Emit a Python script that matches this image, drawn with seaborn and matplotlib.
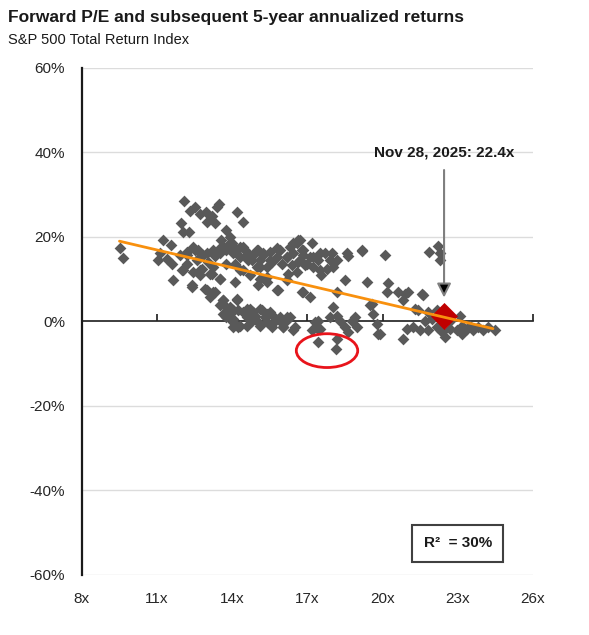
import matplotlib
matplotlib.use("Agg")
import matplotlib.pyplot as plt
from matplotlib.patches import Ellipse
import seaborn as sns
import pandas as pd

# ---------------- data ----------------
pe = [
    9.54, 9.65,
    12.07, 12.51, 12.31, 12.71, 12.95, 13.18, 13.38, 13.48, 12.98, 13.31, 13.77, 11.94, 12.28, 14.17,
    11.24, 11.54, 11.11, 11.38, 11.04, 11.58, 11.91, 12.18, 12.44, 12.64, 12.84, 12.58, 12.18, 11.98,
    12.44, 12.78, 13.04, 13.18, 12.71, 13.51, 13.31, 13.57, 13.77, 13.97, 14.04, 13.57, 13.91,
    11.64, 12.38, 12.98, 13.11, 13.31, 13.64, 13.77, 13.51, 13.97, 13.77, 14.04, 14.04,
    14.44,
    13.97, 14.04, 14.30, 14.30, 14.57, 14.64, 14.84, 15.04, 15.10, 15.23, 14.97, 15.37, 15.57, 15.50,
    15.77, 15.77, 15.97, 16.17, 16.30, 16.43, 16.57, 16.70, 16.77, 16.83, 16.63, 16.37, 16.23, 16.57,
    16.90, 17.10, 17.23, 17.43, 17.50, 17.70, 17.90, 18.03, 17.76, 17.56, 18.16, 18.56, 19.16, 18.49,
    19.36, 16.77, 17.10, 15.83, 15.10, 15.37, 14.70, 14.44, 14.11, 14.11, 18.16, 19.49, 19.76, 19.82,
    14.17, 14.04, 14.44, 14.70, 14.90, 15.17, 15.30, 15.50, 15.70, 15.90, 16.10, 16.30, 16.50, 16.03,
    15.57, 15.10, 14.57, 14.24, 14.77, 17.43, 17.17, 17.50, 17.90, 18.30, 18.49, 18.76, 18.89, 18.96,
    18.63, 18.03, 18.16,
    17.43, 18.16, 18.14,
    20.09, 21.86, 22.22, 22.29, 22.29,
    20.22, 20.16, 20.62, 20.89, 21.02, 20.82, 21.56, 21.62, 21.29, 21.42, 19.56, 19.62,
    21.82, 21.96, 21.69, 22.15, 22.68, 23.08, 21.22, 20.96, 20.82, 21.49, 21.82, 22.15, 22.35, 22.68,
    22.95, 23.15, 23.35, 23.61, 23.81, 24.01, 24.21, 24.48, 19.89, 22.49, 23.15, 23.48,
    19.16, 18.63, 17.96,
    12.18, 12.51, 12.71, 12.98, 13.24, 13.51, 13.64, 13.91, 14.17, 14.44, 14.57, 14.77, 14.97, 15.23,
    15.50, 15.10, 15.90, 16.17, 16.43, 16.63, 16.83, 16.70, 16.97, 17.17, 17.23, 17.50, 12.71, 13.11,
    13.51, 12.38, 12.91, 13.24, 15.77, 15.04, 16.83, 12.04, 13.24, 13.77, 14.30, 15.37, 16.17, 12.04,
    13.64, 14.17, 13.91, 14.24, 14.57, 14.84, 15.10, 15.37, 15.63, 14.57, 14.97, 15.37, 15.90, 16.17,
    16.03, 16.43, 14.04, 14.30, 13.64, 17.30, 17.43,
]
fwd_return = [
    17.3, 15.0,
    28.6, 27.1, 26.2, 25.4, 26.0, 24.9, 27.1, 27.8, 23.6, 23.3, 21.6, 23.2, 21.2, 26.0,
    19.2, 18.1, 16.1, 14.9, 14.5, 13.7, 15.7, 16.5, 17.6, 16.9, 15.7, 14.5, 13.7, 12.1,
    11.7, 12.5, 14.1, 11.3, 10.9, 10.1, 15.4, 17.6, 16.9, 18.5, 16.1, 19.2, 20.0,
    9.7, 8.1, 7.4, 5.8, 7.0, 5.0, 3.4, 3.8, 2.2, 1.0, 0.6, -1.4,
    23.6,
    18.1, 16.5, 17.6, 15.3, 16.5, 14.5, 15.7, 16.9, 14.5, 15.7, 12.9, 12.9, 14.1, 16.5,
    15.3, 17.3, 13.7, 15.3, 17.6, 16.1, 18.5, 19.2, 16.9, 15.7, 14.1, 13.3, 11.3, 11.7,
    13.3, 15.3, 12.9, 14.5, 16.1, 16.1, 14.5, 12.9, 12.5, 10.9, 14.5, 16.1, 16.9, 9.7,
    9.3, 7.0, 5.8, 7.4, 10.1, 9.3, 10.9, 12.1, 9.3, 13.7, 7.0, 3.8, -0.5, -2.9,
    5.0, 2.6, 2.2, 3.0, 1.4, 2.6, 1.0, 2.2, 0.2, 1.0, -0.2, 1.0, -1.4, -1.4,
    -1.4, -1.0, -1.0, -1.4, 0.2, 0.2, -2.1, -1.7, 1.0, 0.2, -1.4, 0.2, 1.0, -1.4,
    -2.5, 3.4, 1.4,
    -4.9, -4.1, -6.5,
    15.8, 16.5, 17.8, 16.1, 14.5,
    9.0, 7.0, 7.0, 6.6, 7.0, 5.0, 6.6, 6.2, 3.0, 2.6, 4.2, 1.8,
    2.2, 0.6, 0.2, 2.6, 0.2, 1.4, -1.4, -1.7, -4.1, -2.1, -2.1, -1.4, -2.5, -1.7,
    -2.1, -2.9, -1.7, -2.1, -1.4, -2.1, -1.4, -2.1, -2.9, -3.7, -1.0, -1.0,
    16.7, 15.4, 16.1,
    15.7, 16.9, 15.3, 16.1, 16.9, 16.1, 17.6, 18.5, 16.9, 17.6, 15.7, 14.5, 16.9, 16.1,
    14.5, 12.9, 16.9, 15.3, 18.5, 19.2, 16.9, 14.5, 13.7, 18.5, 15.3, 12.1, 12.1, 11.3,
    10.1, 8.6, 7.8, 7.0, 7.4, 8.6, 7.0, 12.1, 12.9, 13.7, 12.1, 10.5, 9.7, 21.2,
    5.0, 5.4, 3.4, 2.6, 3.0, 2.2, 3.0, 1.8, 1.4, 1.0, 0.2, -0.2, 0.2, 1.0,
    -1.4, -2.1, -0.2, -1.0, 1.8, -0.2, -1.7,
]
trend_pe = [9.5, 24.4]
trend_ret = [19.0, -1.7]
current_pe = [22.45]
current_ret = [1.4]
x_ticks = [8, 11, 14, 17, 20, 23, 26]
x_labels = ["8x", "11x", "14x", "17x", "20x", "23x", "26x"]
y_ticks = [-60, -40, -20, 0, 20, 40, 60]
y_labels = ["-60%", "-40%", "-20%", "0%", "20%", "40%", "60%"]

df = pd.DataFrame({"pe": pe, "ret": fwd_return})
trend = pd.DataFrame({"pe": trend_pe, "ret": trend_ret})
cur = pd.DataFrame({"pe": current_pe, "ret": current_ret})

# ---------------- figure ----------------
sns.set_theme(style="white")
plt.rcParams["font.family"] = ["Liberation Sans", "DejaVu Sans"]

fig = plt.figure(figsize=(5.89, 6.35), dpi=100)
ax = fig.add_axes([0.139, 0.0945, 0.766, 0.7985])

for yv in y_ticks:
    if yv != 0:
        ax.axhline(yv, color="#DCDCDC", lw=1.0, zorder=0)

sns.scatterplot(data=df, x="pe", y="ret", marker="D", s=36, color="#595959",
                linewidth=0, ax=ax, zorder=2, legend=False)
sns.scatterplot(data=cur, x="pe", y="ret", marker="D", s=190, color="#C00000",
                linewidth=0, ax=ax, zorder=3, legend=False)
sns.lineplot(data=trend, x="pe", y="ret", color="#F8900E", lw=2, ax=ax, zorder=4)

ax.set_xlim(8, 26)
ax.set_ylim(-60, 60)
ax.set_xticks(x_ticks)
ax.set_xticklabels(x_labels)
ax.set_yticks(y_ticks)
ax.set_yticklabels(y_labels)
ax.set_xlabel("")
ax.set_ylabel("")
ax.tick_params(axis="both", length=0, labelsize=11, colors="#262626")
ax.tick_params(axis="x", pad=12)
ax.tick_params(axis="y", pad=12)
for s in ["top", "right", "bottom"]:
    ax.spines[s].set_visible(False)
ax.spines["left"].set_color("#1a1a1a")
ax.spines["left"].set_linewidth(1.6)

# zero axis line with downward ticks
sec = ax.secondary_xaxis(0.5)
sec.set_xticks(x_ticks)
sec.set_xticklabels([])
sec.tick_params(axis="x", direction="out", length=5, width=1.2, color="#1a1a1a")
sec.spines["bottom"].set_color("#1a1a1a")
sec.spines["bottom"].set_linewidth(1.4)

# annotation arrow
ax.annotate("", xy=(22.45, 5.0), xytext=(22.45, 36.5),
            arrowprops=dict(arrowstyle="-|>,head_length=0.7,head_width=0.35",
                            fc="black", ec="#7f7f7f", lw=1.5),
            zorder=5)
ax.text(22.45, 40, "Nov 28, 2025: 22.4x", ha="center", va="center",
        fontsize=11, fontweight="bold", color="#1a1a1a", zorder=6)

# R squared box
ax.text(23.0, -52.5, "R\u00b2  = 30%", ha="center", va="center", fontsize=11,
        fontweight="bold", color="#1a1a1a",
        bbox=dict(boxstyle="square,pad=0.75", fc="white", ec="#404040", lw=1.5))

# hand-drawn highlight around the negative returns
ax.add_patch(Ellipse((17.78, -6.9), 2.45, 8.0, fill=False, ec="#E8141B", lw=2.0, zorder=6))

fig.text(0.0136, 0.972, "Forward P/E and subsequent 5-year annualized returns",
         fontsize=12.5, fontweight="bold", ha="left", va="center", color="#1a1a1a")
fig.text(0.0136, 0.937, "S&P 500 Total Return Index", fontsize=10.5,
         ha="left", va="center", color="#1a1a1a")

fig.savefig("out.png", dpi=100)
